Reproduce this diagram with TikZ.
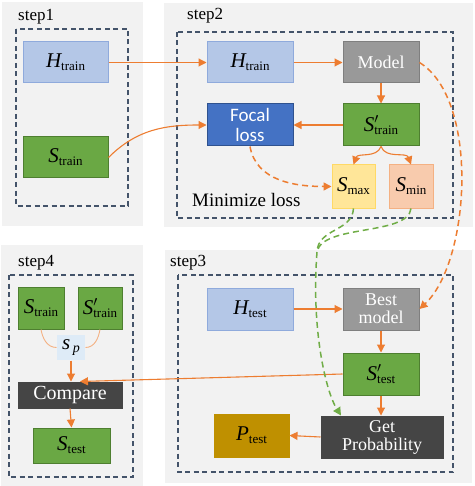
\documentclass[tikz,border=0pt]{standalone}
\usepackage{fontspec}
\setmainfont{Liberation Serif}
\newfontfamily\calibri{Carlito}
\usetikzlibrary{arrows.meta}

\definecolor{panelgray}{HTML}{F2F2F2}
\definecolor{stageblue}{HTML}{44546A}
\definecolor{hblue}{HTML}{B4C7E7}
\definecolor{hblueline}{HTML}{8FAADC}
\definecolor{sgreen}{HTML}{6AA844}
\definecolor{sgreenline}{HTML}{4E7F30}
\definecolor{mgray}{HTML}{999999}
\definecolor{mgrayline}{HTML}{7F7F7F}
\definecolor{focalblue}{HTML}{4472C4}
\definecolor{focalline}{HTML}{2F528F}
\definecolor{maxyellow}{HTML}{FFE699}
\definecolor{maxline}{HTML}{FFD966}
\definecolor{minpeach}{HTML}{F8CBAD}
\definecolor{minline}{HTML}{F4B183}
\definecolor{darkgray}{HTML}{454545}
\definecolor{pgold}{HTML}{BF9000}
\definecolor{spblue}{HTML}{DEEBF7}
\definecolor{arrorange}{HTML}{ED7D31}
\definecolor{lightorange}{HTML}{F4B183}
\definecolor{arrgreen}{HTML}{70AD47}

% symbol with subscript, and with prime and subscript
\newcommand{\vsub}[2]{{\fontsize{21}{21}\selectfont\itshape #1}{\fontsize{13}{13}\selectfont\raisebox{-0.5ex}{#2}}}
\newcommand{\vpsub}[2]{{\fontsize{21}{21}\selectfont\itshape #1\rlap{$'$}}{\fontsize{13}{13}\selectfont\raisebox{-0.5ex}{#2}}}

\tikzset{
    panel/.style={fill=panelgray, draw=none},
    stage/.style={draw=stageblue, line width=1.4pt, dash pattern=on 5pt off 3.5pt},
    steplabel/.style={anchor=west, inner sep=0pt, font=\rmfamily\fontsize{17}{17}\selectfont},
    box/.style={rectangle, inner sep=0pt, line width=1pt, font=\rmfamily\fontsize{18}{18}\selectfont, align=center},
    hbox/.style={box, fill=hblue, draw=hblueline},
    gbox/.style={box, fill=sgreen, draw=sgreenline},
    mbox/.style={box, fill=mgray, draw=mgrayline, text=white},
    dbox/.style={box, fill=darkgray, draw=darkgray, text=white},
    arr/.style={draw=arrorange, line width=1.1pt, -{Triangle[length=8pt,width=8pt]}},
    darr/.style={arr, line width=1.5pt, dash pattern=on 6pt off 4pt},
    garr/.style={draw=arrgreen, line width=1.5pt, dash pattern=on 6pt off 4pt},
}

\begin{document}
\begin{tikzpicture}[x=1pt, y=-1pt]
        \useasboundingbox (0,0) rectangle (474,486);

        % draw the gray panels
        \fill[panel] (2,2) rectangle (143,226);
        \fill[panel] (164,3) rectangle (473,227);
        \fill[panel] (1,245) rectangle (143,486);
        \fill[panel] (165,250) rectangle (472,483);

        % draw the dashed stage frames
        \draw[stage] (16,29) rectangle (128,206);
        \draw[stage] (177,32) rectangle (453,218);
        \draw[stage] (9,275) rectangle (133,477);
        \draw[stage] (178,275) rectangle (453,472);

        % draw the step labels
        \node[steplabel] (lab1) at (18,17) {step1};
        \node[steplabel] (lab2) at (187,16) {step2};
        \node[steplabel] (lab4) at (18,263) {step4};
        \node[steplabel] (lab3) at (170,263) {step3};

        % step1 boxes
        \node[hbox, minimum width=85pt, minimum height=41pt] (htrain1) at (65.5,62.5) {\vsub{H}{train}};
        \node[gbox, minimum width=85pt, minimum height=41pt] (strain1) at (65.5,157.5) {\vsub{S}{train}};

        % step2 boxes
        \node[hbox, minimum width=86pt, minimum height=41pt] (htrain2) at (250,62.5) {\vsub{H}{train}};
        \node[mbox, minimum width=76pt, minimum height=41pt] (model) at (381,62.5) {Model};
        \node[box, fill=focalblue, draw=focalline, text=white, font=\calibri\fontsize{19}{20}\selectfont,
              minimum width=86pt, minimum height=42pt] (focal) at (250,125) {Focal\\loss};
        \node[gbox, minimum width=76pt, minimum height=42pt] (sptrain2) at (381,125) {\vpsub{S}{train}};
        \node[box, fill=maxyellow, draw=maxline, minimum width=43pt, minimum height=43pt] (smax) at (353.5,186.5) {\vsub{S}{max}};
        \node[box, fill=minpeach, draw=minline, minimum width=44pt, minimum height=43pt] (smin) at (411,186.5) {\vsub{S}{min}};
        \node[anchor=west, inner sep=0pt, font=\rmfamily\fontsize{19}{19}\selectfont] (minloss) at (192,200) {Minimize loss};

        % step3 boxes
        \node[hbox, minimum width=86pt, minimum height=42pt] (htest) at (250,309) {\vsub{H}{test}};
        \node[mbox, minimum width=76pt, minimum height=42pt] (best) at (381,309) {Best\\model};
        \node[gbox, minimum width=76pt, minimum height=42pt] (sptest) at (381,374) {\vpsub{S}{test}};
        \node[dbox, minimum width=122pt, minimum height=42pt] (getprob) at (382,437) {Get\\Probability};
        \node[box, fill=pgold, draw=pgold, minimum width=75pt, minimum height=43pt] (ptest) at (251.5,435.5) {\vsub{P}{test}};

        % step4 boxes
        \node[gbox, minimum width=46pt, minimum height=42pt] (strain4) at (41,308) {\vsub{S}{train}};
        \node[gbox, minimum width=44pt, minimum height=42pt] (sptrain4) at (100,308) {\vpsub{S}{train}};
        \node[box, fill=spblue, draw=none, minimum width=28pt, minimum height=25pt] (sp) at (71,347.5)
            {{\fontsize{21}{21}\selectfont\itshape s}{\fontsize{14}{14}\selectfont\itshape\raisebox{-0.6ex}{\,p}}};
        \node[dbox, minimum width=104pt, minimum height=26pt, font=\rmfamily\fontsize{20}{20}\selectfont] (compare) at (70,395) {Compare};
        \node[gbox, minimum width=77pt, minimum height=35pt] (stest) at (71.5,445.5) {\vsub{S}{test}};

        % draw the solid connectors
        \draw[arr] (htrain1.east) -- (htrain2.west);
        \draw[arr] (strain1.east) to[out=45, in=180] (focal.west);
        \draw[arr] (htrain2.east) -- (model.west);
        \draw[arr] (model.south) -- (sptrain2.north);
        \draw[arr] (sptrain2.west) -- (focal.east);
        \draw[arr] (sptrain2.south) to[out=-110, in=70] (smax.north);
        \draw[arr] (sptrain2.south) to[out=-70, in=110] (smin.north);
        \draw[arr] (htest.east) -- (best.west);
        \draw[arr] (best.south) -- (sptest.north);
        \draw[arr] (sptest.south) -- (sptest.south |- getprob.north);
        \draw[arr] (getprob.west) -- (ptest.east);
        \draw[arr] (sptest.west) -- ([xshift=10pt]compare.north);
        \draw[arr] (sp.south) -- (sp.south |- compare.north);
        \draw[arr] (compare.south) -- (stest.north);

        % draw the thin links into s_p
        \draw[lightorange, line width=0.9pt] (strain4.south) to[out=-80, in=180] (sp.west);
        \draw[lightorange, line width=0.9pt] (sptrain4.south) to[out=-100, in=0] (sp.east);

        % draw the dashed connectors
        \draw[darr] (focal.south) to[out=-80, in=180] (smax.west);
        \draw[darr] (model.east) .. controls (480,100) and (470,262) .. (best.east);

        % draw the green dashed links into Get Probability
        \coordinate (gjoin) at (317,252);
        \draw[garr] (smax.south) .. controls (352,232) and (318,228) .. (gjoin);
        \draw[garr] (smin.south) .. controls (408,236) and (322,224) .. (gjoin);
        \draw[garr, -{Triangle[length=8pt,width=8pt]}] (gjoin) .. controls (311,330) and (326,392) .. ([xshift=-41pt]getprob.north);
    \end{tikzpicture}
\end{document}
